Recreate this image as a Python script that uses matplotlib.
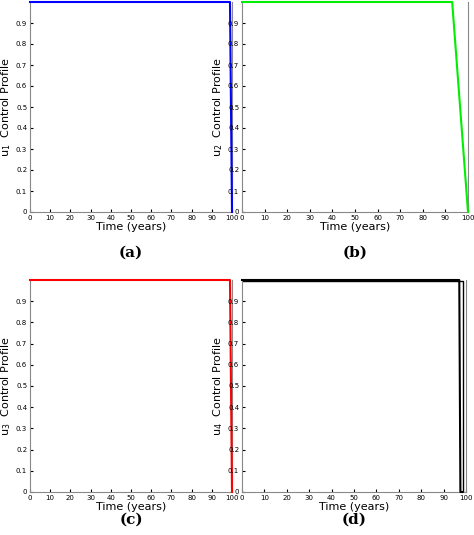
import matplotlib
matplotlib.use("Agg")
import matplotlib.pyplot as plt

t_a = [0, 99, 100]; u_a = [1, 1, 0]
t_b = [0, 93, 100]; u_b = [1, 1, 0]
t_c = [0, 99, 100]; u_c = [1, 1, 0]
t_d = [0, 97, 97.5, 98.5]; u_d = [1, 1, 0, 0]
xticks = list(range(0, 101, 10))
yticks = [0, 0.1, 0.2, 0.3, 0.4, 0.5, 0.6, 0.7, 0.8, 0.9]

fig = plt.figure(figsize=(4.74, 5.35), dpi=100)
W, H = 474, 535
panels = [
    (30, 232, 2, 212, t_a, u_a, "blue", "u$_1$  Control Profile", "(a)", 41),
    (242, 468, 2, 212, t_b, u_b, "#00ee00", "u$_2$  Control Profile", "(b)", 41),
    (30, 232, 280, 492, t_c, u_c, "red", "u$_3$  Control Profile", "(c)", 28),
    (242, 466, 280, 492, t_d, u_d, "black", "u$_4$  Control Profile", "(d)", 28),
]
for l, r, tp, b, t, u, c, yl, lab, off in panels:
    ax = fig.add_axes([l / W, 1 - b / H, (r - l) / W, (b - tp) / H])
    ax.plot(t, u, color=c, lw=1.5, clip_on=False, zorder=5)
    if lab == "(d)":
        ax.plot([0, 98.5, 98.5], [0.995, 0.995, 0], color=c, lw=1.0)
    ax.set_xlim(0, 100); ax.set_ylim(0, 1)
    ax.set_xticks(xticks); ax.set_yticks(yticks)
    ax.set_yticklabels([("%g" % v) for v in yticks])
    ax.tick_params(labelsize=5, length=2, direction="in", pad=2)
    for s in ax.spines.values():
        s.set_color("#888888")
    ax.spines["top"].set_visible(False)
    ax.set_xlabel("Time (years)", fontsize=8, labelpad=1)
    ax.set_ylabel(yl, fontsize=8, labelpad=2)
    fig.text((l + r) / 2 / W, 1 - (b + off) / H, lab, ha="center", va="center",
             fontsize=11, fontweight="bold", family="DejaVu Serif")
fig.savefig("out.png", dpi=100)
